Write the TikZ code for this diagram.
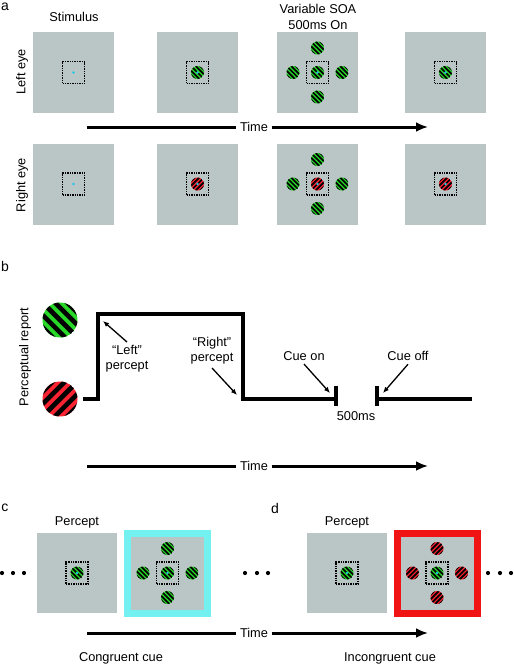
\documentclass[tikz,border=0pt]{standalone}
\usepackage{fontspec}
\setmainfont{Liberation Sans}
\usetikzlibrary{arrows.meta,calc}
\definecolor{screengray}{RGB}{185,198,197}
\definecolor{gratgreen}{RGB}{40,215,40}
\definecolor{gratred}{RGB}{250,35,50}
\definecolor{cuecyan}{RGB}{115,240,240}
\definecolor{cuered}{RGB}{240,20,20}
\definecolor{fixcyan}{RGB}{30,200,230}

\begin{document}
\begin{tikzpicture}[x=1pt,y=-1pt,
    every node/.style={font=\fontsize{12.8}{15}\selectfont},
    panel/.style={font=\fontsize{14}{15}\selectfont},
    screen/.style={fill=screengray,minimum size=81pt,inner sep=0pt},
    cuescreen/.style={screen,minimum size=80pt,line width=7pt},
    fixbox/.style={draw,densely dotted,line width=1.4pt,minimum size=22pt,inner sep=0pt},
    timeline/.style={line width=3pt},
    trace/.style={line width=4.5pt,line join=miter},
    pointer/.style={line width=1.3pt,-{Latex[length=6pt,width=5pt]}}]
    \useasboundingbox (0,0) rectangle (514,665);
    % #1 centre, #2 radius, #3 colour, #4 stripe angle
    \newcommand{\grating}[4]{%
        \begin{scope}[shift={#1},rotate=#4]
            \clip (0,0) circle (#2);
            \fill[#3] (0,0) circle (#2);
            \foreach \k in {-2,...,2} {\draw[line width=#2*0.27pt] (-#2,\k*#2*0.5) -- (#2,\k*#2*0.5);}
        \end{scope}
    }
    % #1 name, #2 height
    \newcommand{\timearrow}[2]{%
        \node (#1) at (254,#2) {Time};
        \coordinate (#1s) at (87,#2);
        \coordinate (#1e) at (428,#2);
        \draw[timeline] (#1s) -- (#1.west);
        \draw[timeline,-{Latex[length=12pt,width=10pt]}] (#1.east) -- (#1e);
    }

    %%% Panel a
    \node[panel] (pa) at (5,7) {a};
    \node (stim) at (74,17) {Stimulus};
    \node (soa) at (318,9) {Variable SOA};
    \node (soaon) at (318,25) {500ms On};
    \node[rotate=90] (lefteye) at (22,72) {Left eye};
    \node[rotate=90] (righteye) at (22,185) {Right eye};
    % Screens
    \foreach \n/\x in {1/73.5,2/197.5,3/317.5,4/445.5} {
        \node[screen] (L\n) at (\x,72.5) {};
        \node[screen] (R\n) at (\x,184) {};
    }
    % Peripheral gratings
    \foreach \e in {L,R} {
        \foreach \dx/\dy in {0/-24.5,-24.5/0,24.5/0,0/24.5} {\grating{($(\e3)+(\dx,\dy)$)}{6.5}{gratgreen}{-45}}
    }
    % Central gratings
    \foreach \n in {2,3,4} {
        \grating{(L\n)}{6.5}{gratgreen}{-45}
        \grating{(R\n)}{6.5}{gratred}{45}
    }
    % Fixation
    \foreach \n in {1,2,3,4} {
        \node[fixbox] (fL\n) at (L\n) {};
        \node[fixbox] (fR\n) at (R\n) {};
        \fill[fixcyan] (L\n) circle (1.3);
        \fill[fixcyan] (R\n) circle (1.3);
    }
    \timearrow{ta}{127}

    %%% Panel b
    \node[panel] (pb) at (5,266) {b};
    \node[rotate=90] (report) at (25,357) {Perceptual report};
    \grating{(60,320)}{17.5}{gratgreen}{-45}
    \grating{(60,399)}{17.5}{gratred}{45}
    % Trace
    \coordinate (start) at (83,399);
    \coordinate (up) at (98,314);
    \coordinate (down) at (243,399);
    \coordinate (cueon) at (336,399);
    \coordinate (cueoff) at (377,399);
    \coordinate (stop) at (472,399);
    \draw[trace] (start) -| (up) -| (down) -- (cueon);
    \draw[trace] (cueoff) -- (stop);
    \foreach \c in {cueon,cueoff} {\draw[trace] ($(\c)+(0,-13)$) -- ($(\c)+(0,7)$);}
    % Labels
    \node[align=center] (leftlbl) at (127,359) {“Left”\\percept};
    \node[align=center] (rightlbl) at (212,351) {“Right”\\percept};
    \node (onlbl) at (304,356) {Cue on};
    \node (offlbl) at (408,356) {Cue off};
    \node (gap) at (356,416) {500ms};
    \coordinate (leftpt) at (103,321);
    \coordinate (rightpt) at (237,395);
    \coordinate (onpt) at (330,393);
    \coordinate (offpt) at (383,393);
    \draw[pointer] (leftlbl.north) -- (leftpt);
    \draw[pointer] (rightlbl.south) -- (rightpt);
    \draw[pointer] (onlbl.south) -- (onpt);
    \draw[pointer] (offlbl.south) -- (offpt);
    \timearrow{tb}{466}

    %%% Panels c and d
    \node[panel] (pc) at (5,508) {c};
    \node[panel] (pd) at (275,508) {d};
    \node (perc) at (77,522) {Percept};
    \node (perd) at (347,522) {Percept};
    \node[screen,minimum size=80pt] (c1) at (77,573) {};
    \node[cuescreen,draw=cuecyan] (c2) at (167.5,573) {};
    \node[screen,minimum size=80pt] (d1) at (347,573) {};
    \node[cuescreen,draw=cuered] (d2) at (437,573) {};
    % Cue gratings
    \foreach \dx/\dy in {0/-24.5,-24.5/0,24.5/0,0/24.5} {
        \grating{($(c2)+(\dx,\dy)$)}{6.5}{gratgreen}{-45}
        \grating{($(d2)+(\dx,\dy)$)}{6.5}{gratred}{45}
    }
    \foreach \s in {c1,c2,d1,d2} {
        \grating{(\s)}{6.5}{gratgreen}{-45}
        \node[fixbox] (f\s) at (\s) {};
        \fill[fixcyan] (\s) circle (1.3);
    }
    % Dots
    \foreach \x in {2,13,24,245,257,268,488,500,511} {\fill (\x,573) circle (2.1);}
    \timearrow{tc}{633}
    \node (congr) at (121,658) {Congruent cue};
    \node (incongr) at (390,658) {Incongruent cue};
\end{tikzpicture}
\end{document}
